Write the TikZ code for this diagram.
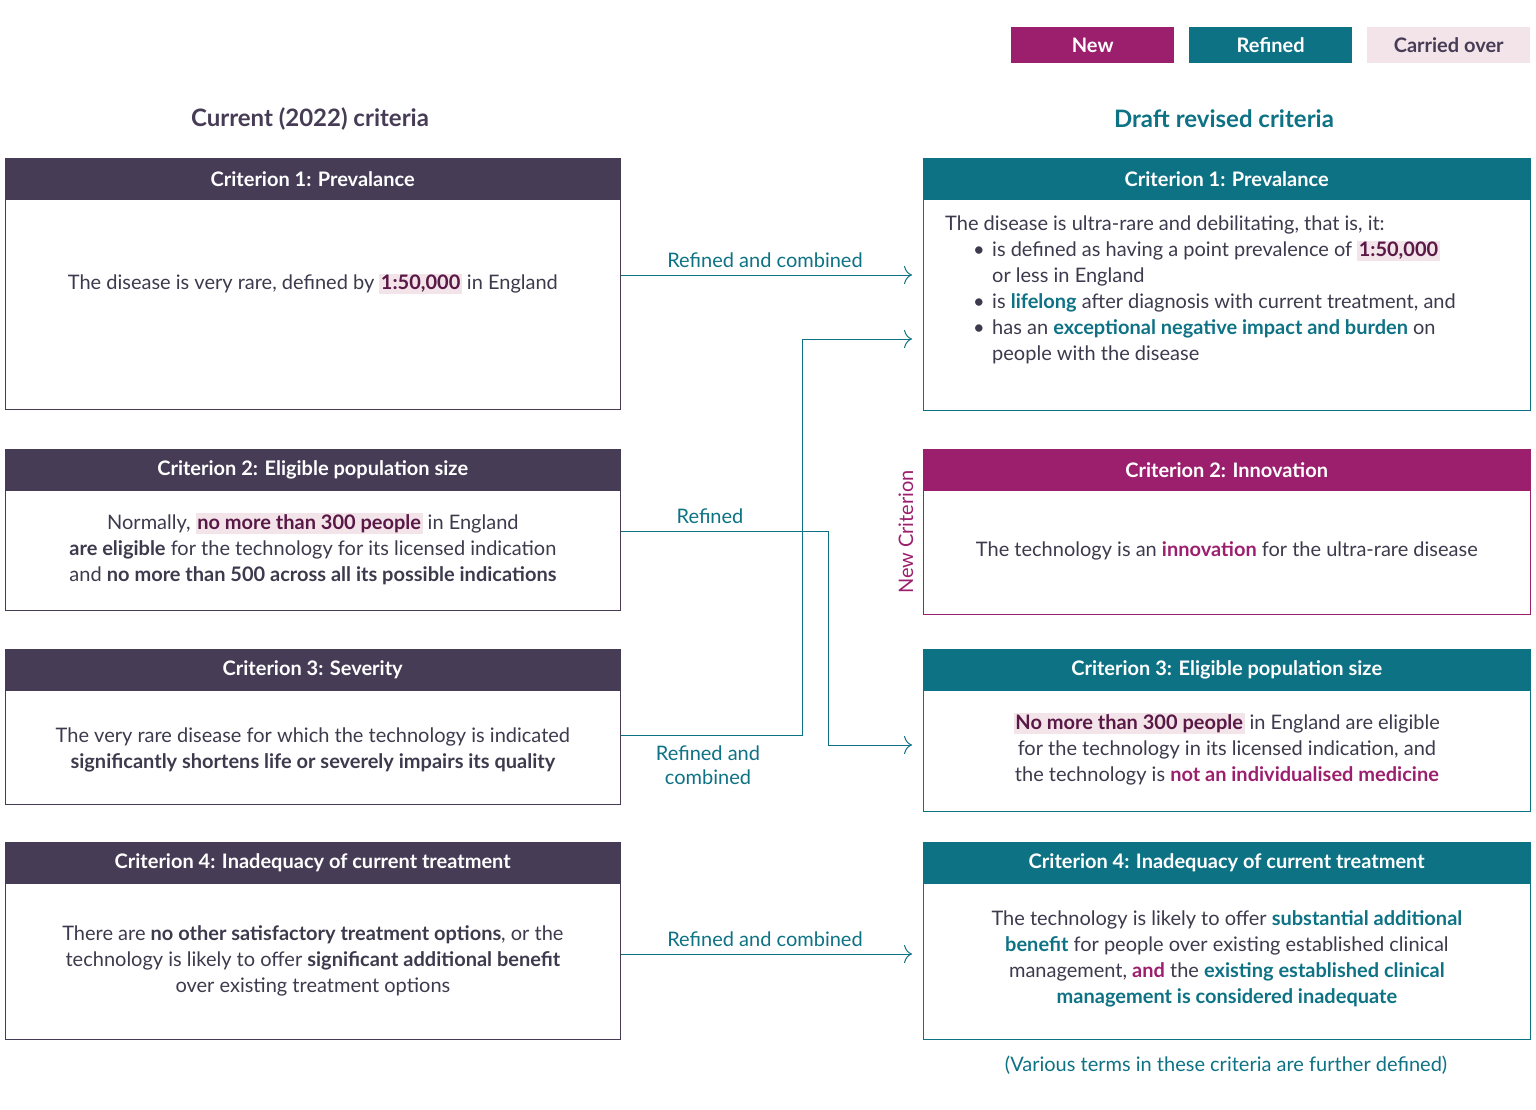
\documentclass[tikz,border=0pt]{standalone}
\usepackage{fontspec}
\setmainfont{Lato}
\usetikzlibrary{arrows.meta}
\definecolor{hd}{HTML}{463C55}
\definecolor{tl}{HTML}{0E7285}
\definecolor{mg}{HTML}{9C1F6E}
\definecolor{hlc}{HTML}{F2E4E8}
\definecolor{dp}{HTML}{5A1846}
\definecolor{tx}{HTML}{3C3A4C}
\newcommand{\hlt}[1]{{\setlength{\fboxsep}{1.5pt}\colorbox{hlc}{\textbf{\color{dp}#1}}}}
\newcommand{\tb}[1]{\textbf{\color{tl}#1}}
\newcommand{\mb}[1]{\textbf{\color{mg}#1}}
\begin{document}
\begin{tikzpicture}[x=1pt,y=-1pt,
  every node/.style={font=\fontsize{20}{26}\selectfont, text=tx},
  hdr/.style={anchor=north west, minimum height=42pt, inner sep=0pt, font=\fontsize{20}{26}\selectfont\bfseries, text=white},
  body/.style={anchor=north west, draw=#1, line width=0.8pt, inner sep=0pt, align=center},
  conn/.style={draw=tl, line width=1pt, -{Computer Modern Rightarrow[length=8pt,width=18pt]}},
  lab/.style={text=tl, align=center},
  leg/.style={anchor=north west, minimum width=163pt, minimum height=36pt, inner sep=0pt, font=\fontsize{20}{26}\selectfont\bfseries}]
\useasboundingbox (0,0) rectangle (1536,1110);
% legend
\node[leg, fill=mg, text=white] (lnew) at (1011,27) {New};
\node[leg, fill=tl, text=white] (lref) at (1189,27) {Refined};
\node[leg, fill=hlc, text=hd] (lcar) at (1367,27) {Carried over};
% titles
\node[font=\fontsize{24}{28}\selectfont\bfseries, text=hd] (t1) at (310,119) {Current (2022) criteria};
\node[font=\fontsize{24}{28}\selectfont\bfseries, text=tl] (t2) at (1224,119) {Draft revised criteria};
% left boxes
\node[body=hd, minimum width=615pt, minimum height=251pt] (b1) at (5,158) {The disease is very rare, defined by \hlt{1:50,000} in England};
\node[hdr, fill=hd, minimum width=615pt] (h1) at (5,158) {Criterion 1: Prevalance};
\node[body=hd, minimum width=615pt, minimum height=161pt] (b2) at (5,449) {\rule{0pt}{42pt}\\[-14pt]Normally, \hlt{no more than 300 people} in England\\ \textbf{are eligible} for the technology for its licensed indication\\ and \textbf{no more than 500 across all its possible indications}};
\node[hdr, fill=hd, minimum width=615pt] (h2) at (5,449) {Criterion 2: Eligible population size};
\node[body=hd, minimum width=615pt, minimum height=155pt] (b3) at (5,649) {\rule{0pt}{42pt}\\[-8pt]The very rare disease for which the technology is indicated\\ \textbf{significantly shortens life or severely impairs its quality}};
\node[hdr, fill=hd, minimum width=615pt] (h3) at (5,649) {Criterion 3: Severity};
\node[body=hd, minimum width=615pt, minimum height=197pt] (b4) at (5,842) {\rule{0pt}{42pt}\\[-14pt]There are \textbf{no other satisfactory treatment options}, or the\\ technology is likely to offer \textbf{significant additional benefit}\\ over existing treatment options};
\node[hdr, fill=hd, minimum width=615pt] (h4) at (5,842) {Criterion 4: Inadequacy of current treatment};
% right boxes
\node[body=tl, minimum width=607pt, minimum height=252pt] (r1) at (923,158) {};
\node[hdr, fill=tl, minimum width=607pt] (rh1) at (923,158) {Criterion 1: Prevalance};
\node[anchor=north west, align=left, inner sep=0pt] (r1t) at (945,216) {The disease is ultra-rare and debilitating, that is, it:\\
\hspace*{28pt}\makebox[19pt][l]{•}is defined as having a point prevalence of \hlt{1:50,000}\\
\hspace*{47pt}or less in England\\
\hspace*{28pt}\makebox[19pt][l]{•}is \tb{lifelong} after diagnosis with current treatment, and\\
\hspace*{28pt}\makebox[19pt][l]{•}has an \tb{exceptional negative impact and burden} on\\
\hspace*{47pt}people with the disease};
\node[body=mg, minimum width=607pt, minimum height=165pt] (r2) at (923,449) {\rule{0pt}{42pt}\\[-16pt]The technology is an \mb{innovation} for the ultra-rare disease};
\node[hdr, fill=mg, minimum width=607pt] (rh2) at (923,449) {Criterion 2: Innovation};
\node[body=tl, minimum width=607pt, minimum height=162pt] (r3) at (923,649) {\rule{0pt}{42pt}\\[-14pt]\hlt{No more than 300 people} in England are eligible\\ for the technology in its licensed indication, and\\ the technology is \mb{not an individualised medicine}};
\node[hdr, fill=tl, minimum width=607pt] (rh3) at (923,649) {Criterion 3: Eligible population size};
\node[body=tl, minimum width=607pt, minimum height=197pt] (r4) at (923,842) {\rule{0pt}{42pt}\\[-18pt]The technology is likely to offer \tb{substantial additional}\\ \tb{benefit} for people over existing established clinical\\ management, \mb{and} the \tb{existing established clinical}\\ \tb{management is considered inadequate}};
\node[hdr, fill=tl, minimum width=607pt] (rh4) at (923,842) {Criterion 4: Inadequacy of current treatment};
% side label and footnote
\node[rotate=90, text=mg] (nc) at (906,532) {New Criterion};
\node[text=tl] (fn) at (1226,1065) {(Various terms in these criteria are further defined)};
% connectors
\coordinate (a1) at (912,275);
\coordinate (a2) at (912,339);
\coordinate (a3) at (912,745);
\coordinate (a4) at (912,954);
\draw[conn] (b1.east |- a1) -- (a1);
\draw[conn] (b3.east |- 0,735) -| (802,339) -- (a2);
\draw[conn] (b2.east |- 0,531) -| (828,745) -- (a3);
\draw[conn] (b4.east |- a4) -- (a4);
\node[lab] (l1) at (765,260) {Refined and combined};
\node[lab] (l2) at (710,516) {Refined};
\node[lab, font=\fontsize{20}{24}\selectfont] (l3) at (708,765) {Refined and\\ combined};
\node[lab] (l4) at (765,939) {Refined and combined};
\end{tikzpicture}
\end{document}
